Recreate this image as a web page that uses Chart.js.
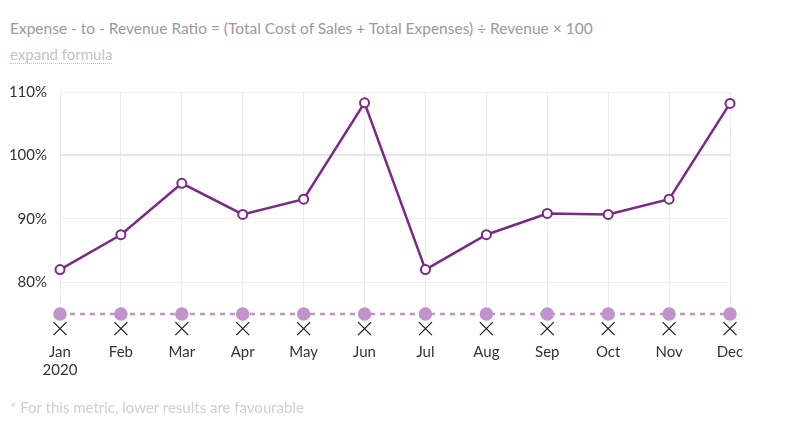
<!DOCTYPE html>
<html>
<head>
<meta charset="utf-8">
<script src="https://cdn.jsdelivr.net/npm/chart.js@4"></script>
<style>
  body { margin: 0; background: #fff; font-family: Lato, "Open Sans", sans-serif; }
  #wrap { position: relative; width: 793px; height: 427px; overflow: hidden; }
  .title { position: absolute; left: 10px; top: 19px; font-size: 15.5px; color: #9a9a9a; }
  .expand { position: absolute; left: 10px; top: 45px; font-size: 15px; color: #c4c4c4;
            border-bottom: 1px dotted #c4c4c4; line-height: 18px; }
  .note { position: absolute; left: 10px; top: 398px; font-size: 15px; color: #cfcfcf; }
  #chartBox { position: absolute; left: 0; top: 70px; width: 793px; height: 338px; }
</style>
</head>
<body>
<div id="wrap">
  <div class="title">Expense - to - Revenue Ratio = (Total Cost of Sales + Total Expenses) ÷ Revenue × 100</div>
  <div class="expand">expand formula</div>
  <div id="chartBox"><canvas id="ratio"></canvas></div>
  <div class="note">* For this metric, lower results are favourable</div>
</div>
<script>
//  Data

const months = ["Jan", "Feb", "Mar", "Apr", "May", "Jun", "Jul", "Aug", "Sep", "Oct", "Nov", "Dec"];
const ratio = [82.0, 87.5, 95.6, 90.7, 93.1, 108.3, 82.0, 87.5, 90.85, 90.7, 93.1, 108.2];
const target = [75, 75, 75, 75, 75, 75, 75, 75, 75, 75, 75, 75];
const markerLevel = 72.7;
const yTicks = [80, 90, 100, 110];

const ratioCanvas = document.getElementById("ratio");
Chart.defaults.font.family = "Lato, 'Open Sans', sans-serif";
Chart.defaults.color = "#333";

// crosses under each month, placed through the chart's own scales
const crossMarks = {
  id: "crossMarks",
  afterDatasetsDraw(chart) {
    const { ctx, scales } = chart;
    const y = scales.y.getPixelForValue(markerLevel);
    const s = 6.5;
    ctx.save();
    ctx.strokeStyle = "#222";
    ctx.lineWidth = 1.3;
    months.forEach((m, i) => {
      const x = scales.x.getPixelForValue(i);
      ctx.beginPath();
      ctx.moveTo(x - s, y - s);
      ctx.lineTo(x + s, y + s);
      ctx.moveTo(x + s, y - s);
      ctx.lineTo(x - s, y + s);
      ctx.stroke();
    });
    ctx.restore();
  },
};

new Chart(ratioCanvas, {
  type: "line",
  data: {
    labels: months.map((m, i) => (i === 0 ? [m, "2020"] : m)),
    datasets: [
      {
        label: "Ratio",
        data: ratio,
        borderColor: "#7a2a86",
        borderWidth: 2.5,
        pointBackgroundColor: "#fff",
        pointBorderColor: "#7a2a86",
        pointBorderWidth: 2,
        pointRadius: 4.5,
        tension: 0,
      },
      {
        label: "Target",
        data: target,
        borderColor: "#c193cb",
        borderWidth: 2.5,
        borderDash: [5, 5],
        pointBackgroundColor: "#c193cb",
        pointBorderColor: "#c193cb",
        pointRadius: 5.5,
        clip: false,
      },
    ],
  },
  plugins: [crossMarks],
  options: {
    responsive: true,
    maintainAspectRatio: false,
    animation: false,
    layout: { padding: { top: 8, right: 63, left: 0, bottom: 0 } },
    scales: {
      x: {
        offset: false,
        grid: { color: "#ececec", drawTicks: false },
        border: { display: false },
        ticks: { padding: 29, font: { size: 15 }, color: "#333", maxRotation: 0 },
      },
      y: {
        min: 75,
        max: 110,
        afterBuildTicks: (axis) => {
          axis.ticks = yTicks.map((v) => ({ value: v }));
        },
        afterFit: (axis) => {
          axis.width = 60;
        },
        grid: {
          drawTicks: false,
          color: (ctx) => (ctx.tick && ctx.tick.value === 100 ? "#e6e6e6" : "#efefef"),
          lineWidth: (ctx) => (ctx.tick && ctx.tick.value === 100 ? 2 : 1),
        },
        border: { display: false },
        ticks: {
          padding: 13,
          font: { size: 15 },
          color: "#333",
          callback: (v) => v + "%",
        },
      },
    },
    plugins: {
      legend: { display: false },
      tooltip: { enabled: false },
    },
  },
});
</script>
</body>
</html>
